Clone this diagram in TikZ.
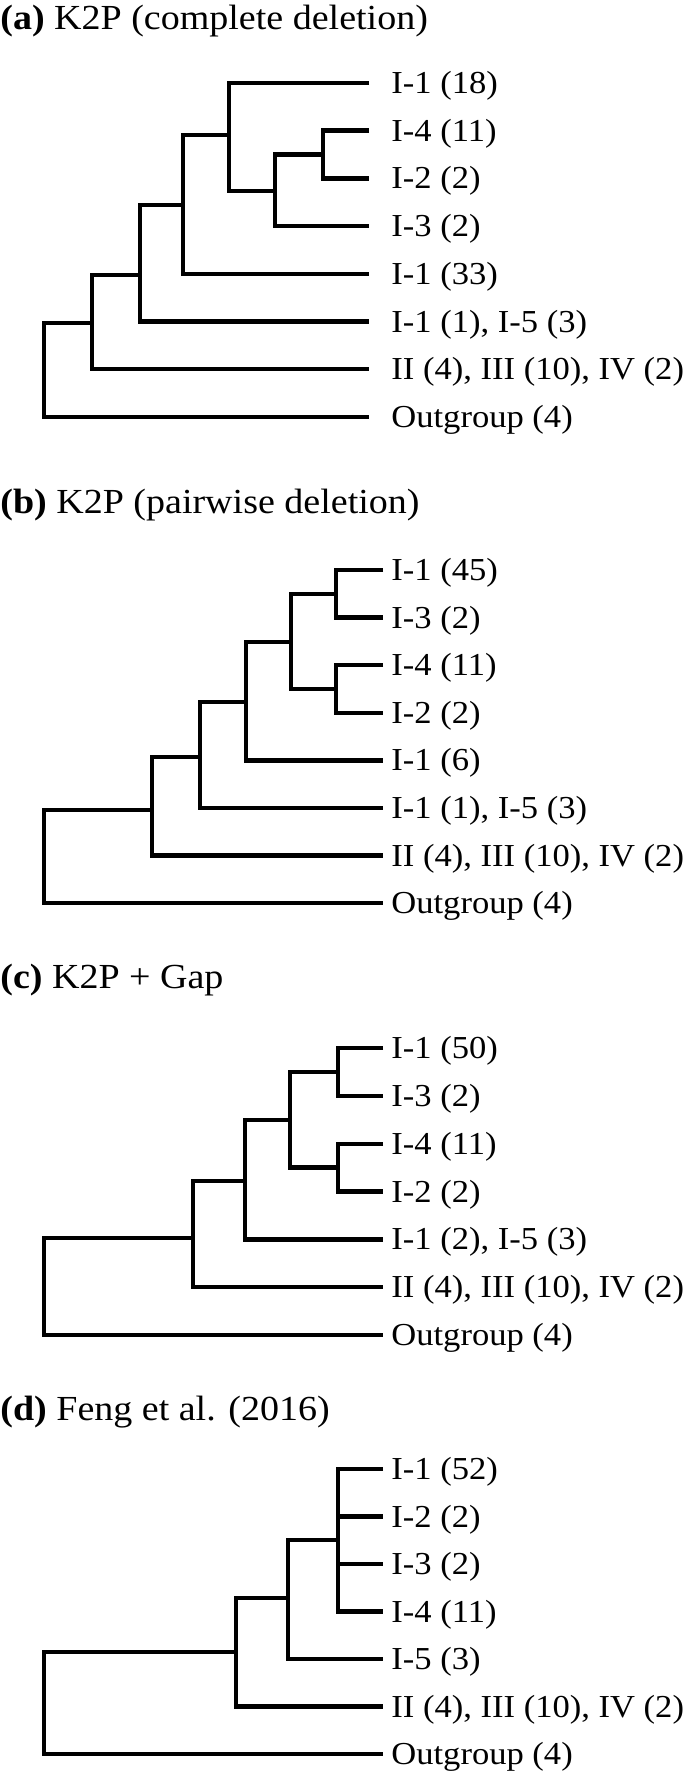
\documentclass[tikz,border=0pt]{standalone}
\usepackage{fontspec}
\setmainfont[FakeStretch=1.08]{Liberation Serif}
\begin{document}
\begin{tikzpicture}[x=0.5pt,y=-0.5pt,
  br/.style={line width=2.2pt},
  leaf/.style={anchor=west,inner ysep=0pt,text height=10.6pt,text depth=0pt,font=\fontsize{16}{19}\selectfont},
  leafa/.style={leaf,inner xsep=11pt},
  leafb/.style={leaf,inner xsep=4pt},
  ttl/.style={anchor=base west,inner sep=0pt,font=\fontsize{17.6}{21}\selectfont}]
\useasboundingbox (0,0) rectangle (685,1775);

% ---------- (a) ----------
\node[ttl] (ta) at (0,30) {\textbf{(a)} K2P (complete deletion)};
\node[leafa] (a1) at (369,83)    {I-1 (18)};
\node[leafa] (a2) at (369,130.7) {I-4 (11)};
\node[leafa] (a3) at (369,178.4) {I-2 (2)};
\node[leafa] (a4) at (369,226.1) {I-3 (2)};
\node[leafa] (a5) at (369,273.8) {I-1 (33)};
\node[leafa] (a6) at (369,321.5) {I-1 (1), I-5 (3)};
\node[leafa] (a7) at (369,369.2) {II (4), III (10), IV (2)};
\node[leafa] (a8) at (369,417)   {Outgroup (4)};
\coordinate (aA) at (323,154.5);
\coordinate (aB) at (275,191);
\coordinate (aC) at (229,135);
\coordinate (aD) at (183,205);
\coordinate (aE) at (140,275);
\coordinate (aF) at (92,323);
\coordinate (aR) at (44,323);
\draw[br] (a2.west) -| (aA) |- (a3.west);
\draw[br] (aA) -| (aB) |- (a4.west);
\draw[br] (a1.west) -| (aC) |- (aB);
\draw[br] (aC) -| (aD) |- (a5.west);
\draw[br] (aD) -| (aE) |- (a6.west);
\draw[br] (aE) -| (aF) |- (a7.west);
\draw[br] (aF) -- (aR) |- (a8.west);

% ---------- (b) ----------
\node[ttl] (tb) at (0,513) {\textbf{(b)} K2P (pairwise deletion)};
\node[leafb] (b1) at (383,570)   {I-1 (45)};
\node[leafb] (b2) at (383,617.6) {I-3 (2)};
\node[leafb] (b3) at (383,665.1) {I-4 (11)};
\node[leafb] (b4) at (383,712.7) {I-2 (2)};
\node[leafb] (b5) at (383,760.3) {I-1 (6)};
\node[leafb] (b6) at (383,807.9) {I-1 (1), I-5 (3)};
\node[leafb] (b7) at (383,855.4) {II (4), III (10), IV (2)};
\node[leafb] (b8) at (383,903)   {Outgroup (4)};
\coordinate (bP) at (336,593.8);
\coordinate (bQ) at (336,689);
\coordinate (bR) at (291,642);
\coordinate (bS) at (246,702);
\coordinate (bT) at (200,757);
\coordinate (bU) at (152,810);
\coordinate (bRt) at (44,810);
\draw[br] (b1.west) -| (bP) |- (b2.west);
\draw[br] (b3.west) -| (bQ) |- (b4.west);
\draw[br] (bP) -| (bR) |- (bQ);
\draw[br] (bR) -| (bS) |- (b5.west);
\draw[br] (bS) -| (bT) |- (b6.west);
\draw[br] (bT) -| (bU) |- (b7.west);
\draw[br] (bU) -- (bRt) |- (b8.west);

% ---------- (c) ----------
\node[ttl] (tc) at (0,988) {\textbf{(c)} K2P + Gap};
\node[leafb] (c1) at (383,1048)   {I-1 (50)};
\node[leafb] (c2) at (383,1095.8) {I-3 (2)};
\node[leafb] (c3) at (383,1143.7) {I-4 (11)};
\node[leafb] (c4) at (383,1191.5) {I-2 (2)};
\node[leafb] (c5) at (383,1239.3) {I-1 (2), I-5 (3)};
\node[leafb] (c6) at (383,1287.2) {II (4), III (10), IV (2)};
\node[leafb] (c7) at (383,1335)   {Outgroup (4)};
\coordinate (cP) at (338,1072);
\coordinate (cQ) at (338,1167.6);
\coordinate (cR) at (290,1120);
\coordinate (cS) at (245,1181);
\coordinate (cT) at (193,1238);
\coordinate (cRt) at (44,1238);
\draw[br] (c1.west) -| (cP) |- (c2.west);
\draw[br] (c3.west) -| (cQ) |- (c4.west);
\draw[br] (cP) -| (cR) |- (cQ);
\draw[br] (cR) -| (cS) |- (c5.west);
\draw[br] (cS) -| (cT) |- (c6.west);
\draw[br] (cT) -- (cRt) |- (c7.west);

% ---------- (d) ----------
\node[ttl] (td) at (0,1420) {\textbf{(d)} Feng et al. (2016)};
\node[leafb] (d1) at (383,1469)   {I-1 (52)};
\node[leafb] (d2) at (383,1516.5) {I-2 (2)};
\node[leafb] (d3) at (383,1564)   {I-3 (2)};
\node[leafb] (d4) at (383,1611.5) {I-4 (11)};
\node[leafb] (d5) at (383,1659)   {I-5 (3)};
\node[leafb] (d6) at (383,1706.5) {II (4), III (10), IV (2)};
\node[leafb] (d7) at (383,1754)   {Outgroup (4)};
\coordinate (dP) at (338,1540);
\coordinate (dR) at (288,1598);
\coordinate (dS) at (236,1652);
\coordinate (dRt) at (44,1652);
\draw[br] (d1.west) -| (dP) |- (d4.west);
\draw[br] (d2.west -| dP) -- (d2.west);
\draw[br] (d3.west -| dP) -- (d3.west);
\draw[br] (dP) -| (dR) |- (d5.west);
\draw[br] (dR) -| (dS) |- (d6.west);
\draw[br] (dS) -- (dRt) |- (d7.west);
\end{tikzpicture}
\end{document}
